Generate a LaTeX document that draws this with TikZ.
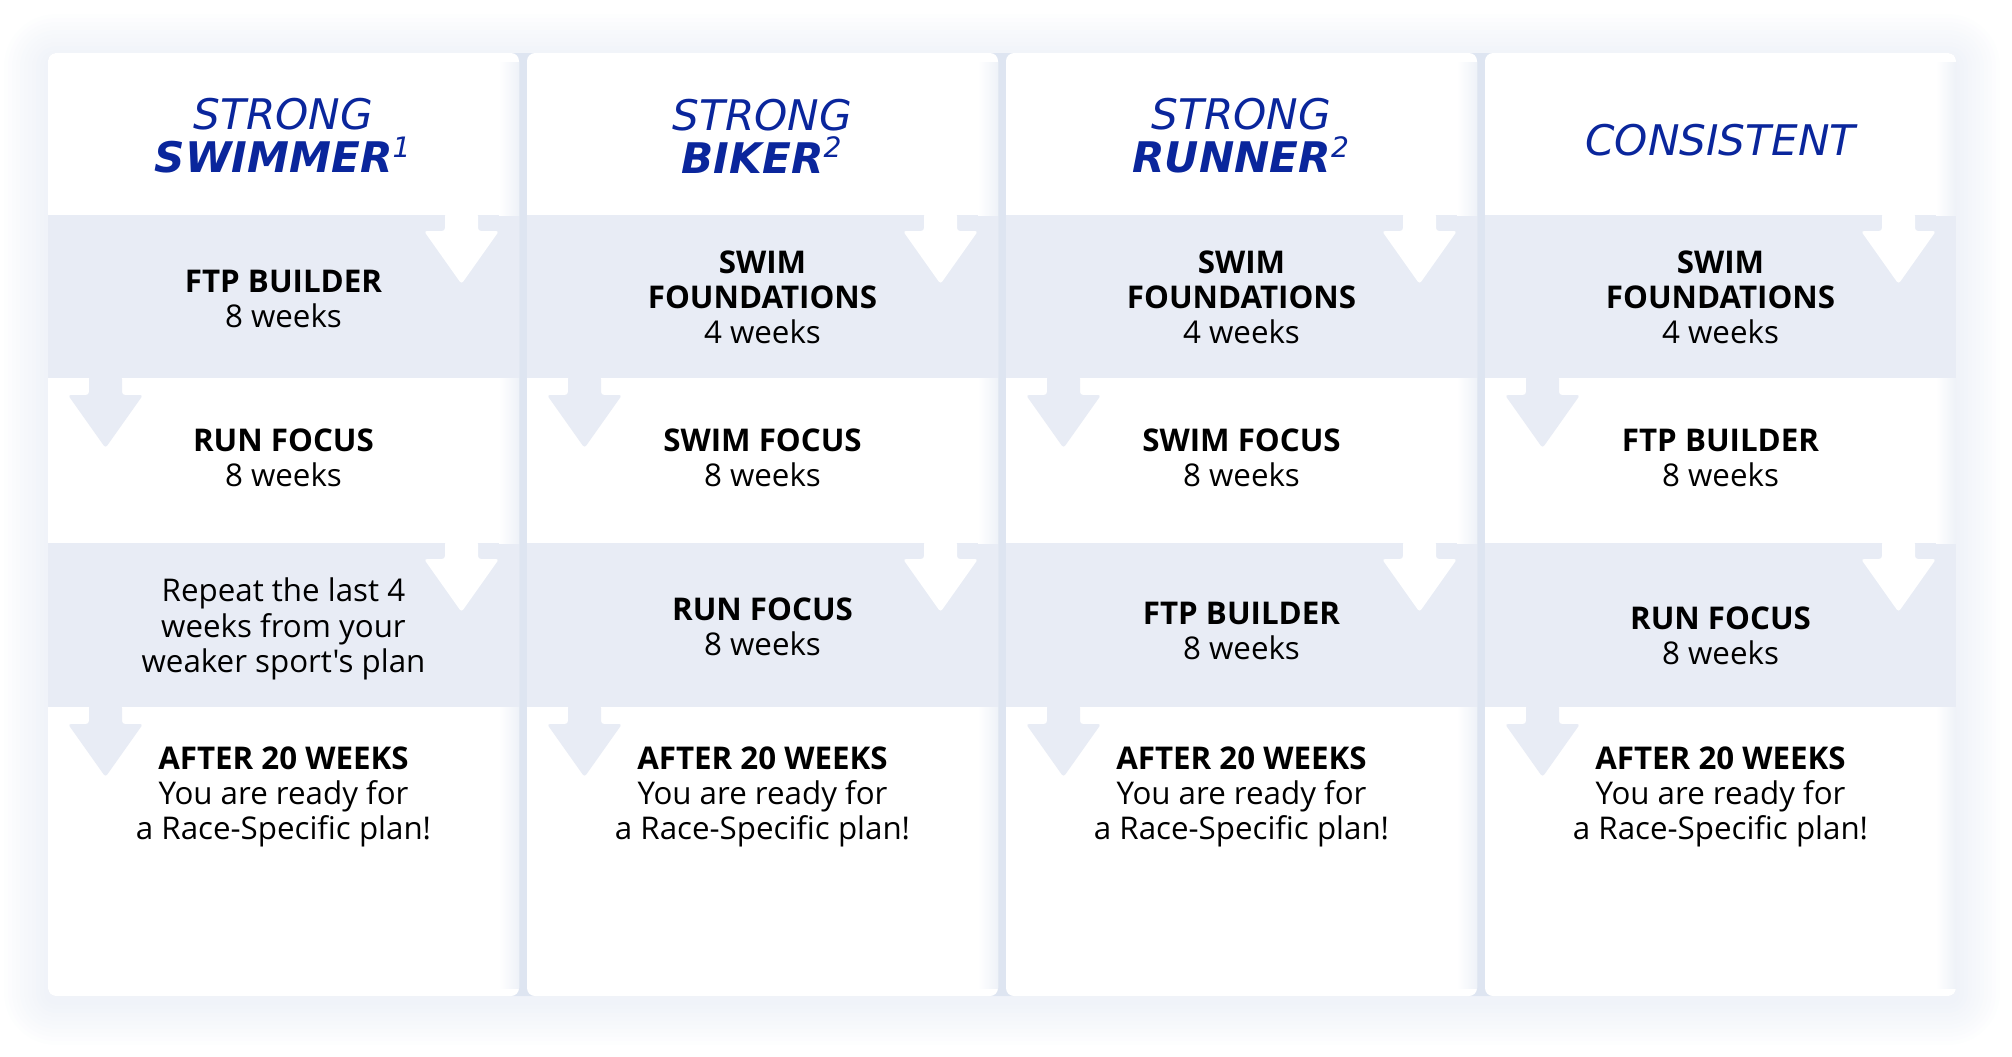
\documentclass[tikz,border=0pt]{standalone}
\usepackage{fontspec}
\usetikzlibrary{calc,positioning}

\newfontfamily\bodyfont[Ligatures=TeXOff]{Open Sans}
\newfontfamily\headfont{DejaVu Sans}

\definecolor{headblue}{RGB}{10,38,156}
\definecolor{bandc}{RGB}{232,236,245}
\definecolor{gapc}{RGB}{222,229,241}
\definecolor{shadowc}{RGB}{214,222,238}

\tikzset{
  heading/.style={align=center, text=headblue, inner sep=0pt,
    font=\headfont\fontsize{12}{12.2}\selectfont\itshape},
  stepbox/.style={align=center, text=black, inner sep=0pt,
    font=\bodyfont\fontsize{8.9}{10}\selectfont},
  downarrow/.style={rounded corners=0.03cm},
}

\begin{document}
\begin{tikzpicture}[x=0.01cm,y=-0.01cm]
    \useasboundingbox (0,0) rectangle (2012,1056);

    % shadow round the four columns
    \foreach \s [evaluate=\s as \r using (\s+8)*0.2845] in {4,8,...,44}
      \fill[shadowc, opacity=0.04, rounded corners=\r pt]
        (48-\s,53-\s+5) rectangle (1956+\s,996+\s+5);

    % gaps between the columns
    \fill[gapc, rounded corners=0.08cm] (48,53) rectangle (1956,996);

    % columns, bands and arrows
    \foreach \k in {0,1,2,3} {
      \pgfmathsetmacro{\L}{48+479*\k}
      \pgfmathsetmacro{\R}{\L+471}
      \fill[white, rounded corners=0.08cm] (\L,53) rectangle (\R,996);
      \fill[bandc] (\L,215) rectangle (\R,378);
      \fill[bandc] (\L,543) rectangle (\R,707);
      % glow at the right edge
      \shade[left color=white, right color=gapc!50!white] (\R-20,62) rectangle (\R,215);
      \shade[left color=white, right color=gapc!50!white] (\R-20,378) rectangle (\R,543);
      \shade[left color=white, right color=gapc!50!white] (\R-20,707) rectangle (\R,988);
      % white arrows on the right
      \foreach \y in {215,543}
        \fill[white, downarrow] (\R-74,\y-2) -- (\R-74,\y+16) -- (\R-95,\y+16)
          -- (\R-57.5,\y+69) -- (\R-20,\y+16) -- (\R-41,\y+16) -- (\R-41,\y-2) -- cycle;
      % shaded arrows on the left
      \foreach \y in {378,707}
        \fill[bandc, downarrow] (\L+41,\y-2) -- (\L+41,\y+17) -- (\L+20,\y+17)
          -- (\L+57.5,\y+70) -- (\L+95,\y+17) -- (\L+74,\y+17) -- (\L+74,\y-2) -- cycle;
    }

    % titles
    \node[heading] (title1) at (283.5,136)
      {STRONG\\\textbf{SWIMMER}\textsuperscript{\mdseries 1}};
    \node[heading] (title2) at (762.5,136)
      {STRONG\\\textbf{BIKER}\textsuperscript{\mdseries 2}};
    \node[heading] (title3) at (1241.5,136)
      {STRONG\\\textbf{RUNNER}\textsuperscript{\mdseries 2}};
    \node[heading] (title4) at (1720.5,140) {CONSISTENT};

    % strong swimmer
    \node[stepbox] (ftp1) at (283.5,299) {\textbf{FTP BUILDER}\\8 weeks};
    \node[stepbox] (run1) at (283.5,458) {\textbf{RUN FOCUS}\\8 weeks};
    \node[stepbox] (repeat1) at (283.5,629) {Repeat the last 4\\weeks from your\\weaker sport's plan};
    \node[stepbox] (after1) at (283.5,797) {\textbf{AFTER 20 WEEKS}\\You are ready for\\a Race-Specific plan!};

    % strong biker
    \node[stepbox] (swim2) at (762.5,297) {\textbf{SWIM}\\\textbf{FOUNDATIONS}\\4 weeks};
    \node[stepbox] (swimf2) at (762.5,458) {\textbf{SWIM FOCUS}\\8 weeks};
    \node[stepbox] (run2) at (762.5,627) {\textbf{RUN FOCUS}\\8 weeks};
    \node[stepbox] (after2) at (762.5,797) {\textbf{AFTER 20 WEEKS}\\You are ready for\\a Race-Specific plan!};

    % strong runner
    \node[stepbox] (swim3) at (1241.5,297) {\textbf{SWIM}\\\textbf{FOUNDATIONS}\\4 weeks};
    \node[stepbox] (swimf3) at (1241.5,458) {\textbf{SWIM FOCUS}\\8 weeks};
    \node[stepbox] (ftp3) at (1241.5,631) {\textbf{FTP BUILDER}\\8 weeks};
    \node[stepbox] (after3) at (1241.5,797) {\textbf{AFTER 20 WEEKS}\\You are ready for\\a Race-Specific plan!};

    % consistent
    \node[stepbox] (swim4) at (1720.5,297) {\textbf{SWIM}\\\textbf{FOUNDATIONS}\\4 weeks};
    \node[stepbox] (ftp4) at (1720.5,458) {\textbf{FTP BUILDER}\\8 weeks};
    \node[stepbox] (run4) at (1720.5,636) {\textbf{RUN FOCUS}\\8 weeks};
    \node[stepbox] (after4) at (1720.5,797) {\textbf{AFTER 20 WEEKS}\\You are ready for\\a Race-Specific plan!};
\end{tikzpicture}
\end{document}
